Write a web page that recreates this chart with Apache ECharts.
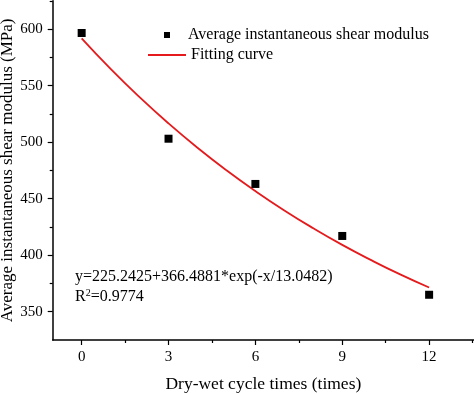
<!DOCTYPE html>
<html>
<head>
<meta charset="utf-8">
<script src="https://cdn.jsdelivr.net/npm/echarts@6/dist/echarts.min.js"></script>
<style>
  html, body { margin: 0; padding: 0; background: #fff; }
  #chart { width: 474px; height: 394px; }
</style>
</head>
<body>
<div id="chart"></div>
<script>
var cycles = [0, 3, 6, 9, 12];
var shearModulus = [596.5, 503, 463, 417, 365];
// Fitting curve
var fitX = [0, 1, 2, 3, 4, 5, 6, 7, 8, 9, 10, 11, 12];
var fitY = [591.7, 564.7, 539.7, 516.5, 495.0, 475.1, 456.7, 439.6, 423.8, 409.1, 395.6, 383.0, 371.4];
// Tick labels
var xMajorTicks = [0, 3, 6, 9, 12];
var xMinorTicks = [1.5, 4.5, 7.5, 10.5, 13.5];
var yMajorTicks = [350, 400, 450, 500, 550, 600];
var yMinorTicks = [375, 425, 475, 525, 575, 625];

var FONT = 'Liberation Serif';
var seriesName1 = 'Average instantaneous shear modulus';
var seriesName2 = 'Fitting curve';

var chart = echarts.init(document.getElementById('chart'), null, { renderer: 'canvas' });

var scatterData = cycles.map(function (c, i) { return [c, shearModulus[i]]; });
var fitData = fitX.map(function (x, i) { return [x, fitY[i]]; });

var axisLineStyle = { color: '#000', width: 1.5 };

var option = {
  backgroundColor: '#fff',
  animation: false,
  grid: { left: 52.7, right: 0, top: 0.75, bottom: 54, outerBoundsMode: 'none', containLabel: false },
  xAxis: [{
    type: 'value', min: -1, max: 13.55,
    name: 'Dry-wet cycle times (times)',
    nameLocation: 'middle', nameGap: 35, nameMoveOverlap: false,
    nameTextStyle: { fontFamily: FONT, fontSize: 17.5, color: '#000' },
    axisLine: { show: true, onZero: false, lineStyle: axisLineStyle },
    axisTick: { show: true, inside: false, length: 5, customValues: xMajorTicks, lineStyle: { color: '#000', width: 1.2 } },
    axisLabel: { customValues: xMajorTicks, margin: 10, fontFamily: FONT, fontSize: 15, color: '#000' },
    splitLine: { show: false }
  }, {
    type: 'value', min: -1, max: 13.55, position: 'bottom',
    axisLine: { show: false, onZero: false },
    axisTick: { show: true, inside: false, length: 3, customValues: xMinorTicks, lineStyle: { color: '#000', width: 1.2 } },
    axisLabel: { show: false },
    splitLine: { show: false }
  }],
  yAxis: [{
    type: 'value', min: 325, max: 625,
    name: 'Average instantaneous shear modulus (MPa)',
    nameLocation: 'middle', nameGap: 37, nameMoveOverlap: false,
    nameTextStyle: { fontFamily: FONT, fontSize: 17, color: '#000' },
    axisLine: { show: true, onZero: false, lineStyle: axisLineStyle },
    axisTick: { show: true, inside: false, length: 5, customValues: yMajorTicks, lineStyle: { color: '#000', width: 1.2 } },
    axisLabel: { customValues: yMajorTicks, margin: 10, fontFamily: FONT, fontSize: 15, color: '#000' },
    splitLine: { show: false }
  }, {
    type: 'value', min: 325, max: 625, position: 'left',
    axisLine: { show: false, onZero: false },
    axisTick: { show: true, inside: false, length: 3, customValues: yMinorTicks, lineStyle: { color: '#000', width: 1.2 } },
    axisLabel: { show: false },
    splitLine: { show: false }
  }],
  legend: [{
    data: [{ name: seriesName1, icon: 'rect' }],
    left: 164, top: 27, padding: 0,
    itemWidth: 6, itemHeight: 6,
    textStyle: { fontFamily: FONT, fontSize: 16, color: '#000', padding: [0, 0, 0, 13] },
    selectedMode: false
  }, {
    data: [{ name: seriesName2 }],
    left: 147, top: 47, padding: 0,
    itemWidth: 38, itemHeight: 2,
    textStyle: { fontFamily: FONT, fontSize: 16, color: '#000' },
    selectedMode: false
  }],
  graphic: [{
    type: 'text', left: 75, top: 269,
    style: { text: 'y=225.2425+366.4881*exp(-x/13.0482)', font: '16px "Liberation Serif"', fill: '#000' }
  }, {
    type: 'text', left: 75, top: 288,
    style: {
      text: 'R{sup|2}=0.9774',
      font: '16px "Liberation Serif"', fill: '#000',
      rich: { sup: { fontFamily: FONT, fontSize: 10, verticalAlign: 'top', padding: [0, 0, 7, 0], fill: '#000' } }
    }
  }],
  series: [{
    name: seriesName2, type: 'line', data: fitData, smooth: true,
    symbol: 'none', lineStyle: { color: '#e41a1c', width: 1.8 }, itemStyle: { color: '#e41a1c' }, z: 2
  }, {
    name: seriesName1, type: 'scatter', data: scatterData,
    symbol: 'rect', symbolSize: 8, itemStyle: { color: '#000', opacity: 1 }, z: 3
  }]
};

chart.setOption(option);
</script>
</body>
</html>
